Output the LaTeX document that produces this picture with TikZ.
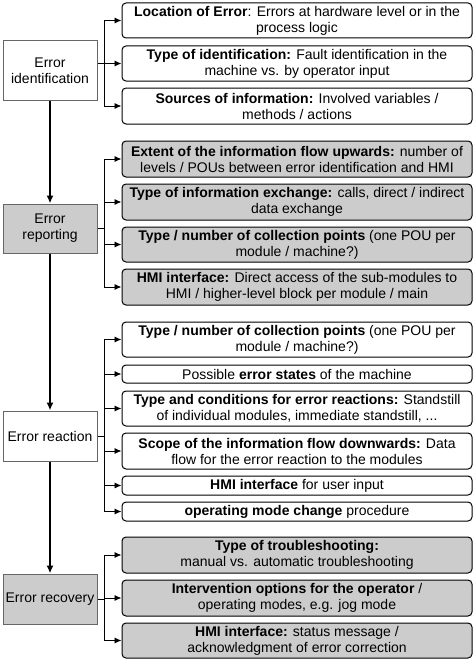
\documentclass[tikz,border=0pt]{standalone}
\usepackage{fontspec}
\setmainfont{Liberation Sans}
\usetikzlibrary{arrows.meta}
\tikzset{
  rbox/.style={draw=black, line width=1pt, rounded corners=4pt, minimum width=350pt, inner sep=0pt, align=center, font=\fontsize{14}{16}\selectfont, fill=white},
  gbox/.style={rbox, fill=gray!40},
  lbox/.style={draw=black!60, line width=1pt, minimum width=94pt, inner sep=0pt, align=center, font=\fontsize{14}{16}\selectfont, fill=white},
  lgbox/.style={lbox, fill=gray!40},
  arr/.style={line width=0.9pt, -{Latex[length=7pt,width=6pt]}},
  main/.style={line width=1.6pt, -{Latex[length=8pt,width=7pt]}},
  bus/.style={line width=0.9pt}
}
\begin{document}
\begin{tikzpicture}[x=1pt,y=-1pt]
\useasboundingbox (0,0) rectangle (474,661);
% left boxes
\node[lbox, minimum height=59pt] (L1) at (50,70.5) {Error\\identification};
\node[lgbox, minimum height=49pt] (L2) at (50,228.5) {Error\\reporting};
\node[lbox, minimum height=50pt] (L3) at (50,436) {Error reaction};
\node[lgbox, minimum height=50pt] (L4) at (50,599) {Error recovery};
% right boxes
\node[rbox, minimum height=35pt] (r1) at (297,20.5) {\textbf{Location of Error}: Errors at hardware level or in the\\process logic};
\node[rbox, minimum height=35pt] (r2) at (297,63.5) {\textbf{Type of identification:} Fault identification in the\\machine vs. by operator input};
\node[rbox, minimum height=36pt] (r3) at (297,106) {\textbf{Sources of information:} Involved variables /\\methods / actions};
\node[gbox, minimum height=36pt] (r4) at (297,159) {\textbf{Extent of the information flow upwards:} number of\\levels / POUs between error identification and HMI};
\node[gbox, minimum height=36pt] (r5) at (297,202) {\textbf{Type of information exchange:} calls, direct / indirect\\data exchange};
\node[gbox, minimum height=35pt] (r6) at (297,244.5) {\textbf{Type / number of collection points} (one POU per\\module / machine?)};
\node[gbox, minimum height=36pt] (r7) at (297,287) {\textbf{HMI interface:} Direct access of the sub-modules to\\HMI / higher-level block per module / main};
\node[rbox, minimum height=35pt] (r8) at (297,339.5) {\textbf{Type / number of collection points} (one POU per\\module / machine?)};
\node[rbox, minimum height=18pt] (r9) at (297,374) {Possible \textbf{error states} of the machine};
\node[rbox, minimum height=35pt] (r10) at (297,408.5) {\textbf{Type and conditions for error reactions:} Standstill\\of individual modules, immediate standstill, ...};
\node[rbox, minimum height=36pt] (r11) at (297,451) {\textbf{Scope of the information flow downwards:} Data\\flow for the error reaction to the modules};
\node[rbox, minimum height=19pt] (r12) at (297,485.5) {\textbf{HMI interface} for user input};
\node[rbox, minimum height=19pt] (r13) at (297,511.5) {\textbf{operating mode change} procedure};
\node[gbox, minimum height=36pt] (r14) at (297,555) {\textbf{Type of troubleshooting:}\\manual vs. automatic troubleshooting};
\node[gbox, minimum height=36pt] (r15) at (297,598) {\textbf{Intervention options for the operator} /\\operating modes, e.g. jog mode};
\node[gbox, minimum height=35pt] (r16) at (297,640.5) {\textbf{HMI interface:} status message /\\acknowledgment of error correction};
% trunk x
\coordinate (tx) at (104,0);
% main flow
\draw[main] (L1) -- (L2);
\draw[main] (L2) -- (L3);
\draw[main] (L3) -- (L4);
% group 1
\draw[bus] (L1.east |- r2.west) -- (r2.west -| tx);
\draw[bus] (r1.west -| tx) -- (r3.west -| tx);
\foreach \n in {r1,r2,r3} \draw[arr] (\n.west -| tx) -- (\n.west);
% group 2
\draw[bus] (L2.east) -- (L2.east -| tx);
\draw[bus] (r4.west -| tx) -- (r7.west -| tx);
\foreach \n in {r4,r5,r6,r7} \draw[arr] (\n.west -| tx) -- (\n.west);
% group 3
\draw[bus] (L3.east) -- (L3.east -| tx);
\draw[bus] (r8.west -| tx) -- (r13.west -| tx);
\foreach \n in {r8,r9,r10,r11,r12,r13} \draw[arr] (\n.west -| tx) -- (\n.west);
% group 4
\draw[bus] (L4.east) -- (L4.east -| tx);
\draw[bus] (r14.west -| tx) -- (r16.west -| tx);
\foreach \n in {r14,r15,r16} \draw[arr] (\n.west -| tx) -- (\n.west);
\end{tikzpicture}
\end{document}
